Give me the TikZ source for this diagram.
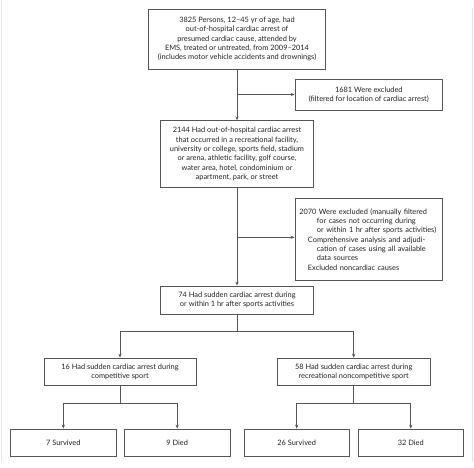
\documentclass[tikz,border=0pt]{standalone}
\usepackage{fontspec}
\setmainfont{Lato}
\usetikzlibrary{arrows.meta}
\definecolor{linec}{HTML}{555555}
\definecolor{textc}{HTML}{222222}
\begin{document}
\begin{tikzpicture}[x=1pt,y=-1pt,
  box/.style={draw=linec, line width=0.8pt, inner sep=0pt, align=center,
    text=textc, font=\fontsize{7.4}{9.35}\selectfont, anchor=center},
  conn/.style={draw=linec, line width=0.8pt},
  arr/.style={conn, -{Stealth[length=4pt,width=3.2pt]}}]
\useasboundingbox (0,0) rectangle (474,467);
\draw[gray!20, line width=0.6pt] (1,0) -- (1,462);
\draw[gray!20, line width=0.6pt] (472.7,8) -- (472.7,462);

\node[box, minimum width=177.4pt, minimum height=60pt] (b1) at (237,39)
 {3825 Persons, 12--45 yr of age, had\\out-of-hospital cardiac arrest of\\presumed cardiac cause, attended by\\EMS, treated or untreated, from 2009--2014\\(includes motor vehicle accidents and drownings)};
\node[box, minimum width=147.7pt, minimum height=31pt] (b2) at (368.8,94.5)
 {1681 Were excluded\\(filtered for location of cardiac arrest)};
\node[box, minimum width=152.6pt, minimum height=67pt] (b3) at (237,154.2)
 {2144 Had out-of-hospital cardiac arrest\\that occurred in a recreational facility,\\university or college, sports field, stadium\\or arena, athletic facility, golf course,\\water area, hotel, condominium or\\apartment, park, or street};
\node[box, minimum width=147.7pt, minimum height=81.3pt, text width=139.1pt, inner xsep=4.3pt, align=left] (b4) at (368.8,239.3)
 {2070 Were excluded (manually filtered\\\hspace*{17.7pt}for cases not occurring during\\\hspace*{17.7pt}or within 1 hr after sports activities)\\\hspace*{8.7pt}Comprehensive analysis and adjudi-\\\hspace*{17.7pt}cation of cases using all available\\\hspace*{17.7pt}data sources\\\hspace*{8.7pt}Excluded noncardiac causes};
\node[box, minimum width=152.6pt, minimum height=28pt] (b5) at (237,300)
 {74 Had sudden cardiac arrest during\\or within 1 hr after sports activities};
\node[box, minimum width=152pt, minimum height=27.3pt] (b6) at (120,371.7)
 {16 Had sudden cardiac arrest during\\competitive sport};
\node[box, minimum width=152.7pt, minimum height=27.3pt] (b7) at (353.7,371.7)
 {58 Had sudden cardiac arrest during\\recreational noncompetitive sport};
\node[box, minimum width=105.3pt, minimum height=27pt] (c1) at (63.3,442.5) {7 Survived};
\node[box, minimum width=105.7pt, minimum height=27pt] (c2) at (177.2,442.5) {9 Died};
\node[box, minimum width=105.3pt, minimum height=27pt] (c3) at (296.7,442.5) {26 Survived};
\node[box, minimum width=105pt, minimum height=27pt] (c4) at (410.8,442.5) {32 Died};

\coordinate (j1) at (237,94.5);
\coordinate (j2) at (237,237.3);
\coordinate (j3) at (237,331);
\coordinate (j4) at (120,403);
\coordinate (j5) at (353.7,403);

\draw[arr] (b1.south) -- (b3.north);
\draw[arr] (j1) -- (b2.west);
\draw[arr] (b3.south) -- (b5.north);
\draw[arr] (j2) -- (j2 -| b4.west);
\draw[conn] (b5.south) -- (j3);
\draw[arr] (j3) -| (b6.north);
\draw[arr] (j3) -| (b7.north);
\draw[conn] (b6.south) -- (j4);
\draw[arr] (j4) -| (c1.north);
\draw[arr] (j4) -| (c2.north);
\draw[conn] (b7.south) -- (j5);
\draw[arr] (j5) -| (c3.north);
\draw[arr] (j5) -| (c4.north);
\end{tikzpicture}
\end{document}
